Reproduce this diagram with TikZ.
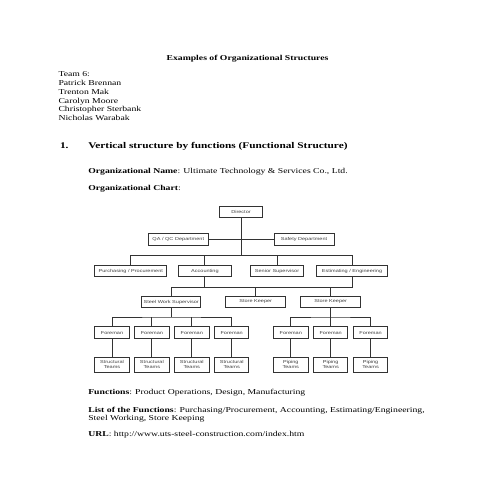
\documentclass[tikz,border=0pt]{standalone}
\usepackage{fontspec}
\setmainfont{Liberation Serif}
\newfontfamily\chartfont{Liberation Sans}
\usepackage{graphicx}
\newcommand{\sx}[1]{\scalebox{1.294}[1]{#1}}
\begin{document}
\begin{tikzpicture}[x=1pt,y=-1pt,
  pg/.style={anchor=base west, inner sep=0, outer sep=0, xscale=1.294, font=\fontsize{7.5}{8.8}\selectfont},
  pgb/.style={pg, font=\fontsize{7.5}{8.8}\selectfont\bfseries},
  hd/.style={pg, font=\fontsize{8.75}{10}\selectfont\bfseries},
  box/.style={draw=black!80, line width=1pt, inner sep=0, minimum height=11pt, font=\chartfont\fontsize{4.3}{5}\selectfont, text=black!75},
  fm/.style={box, minimum width=34.5pt, minimum height=11.3pt},
  tm/.style={box, minimum width=34.5pt, minimum height=14.8pt},
  ln/.style={draw=black!80, line width=1pt}]
\fill[white] (0,0) rectangle (495,495);
\useasboundingbox (0,0) rectangle (495,495);

% page text
\node[pgb, anchor=base] (title) at (247.5,60) {Examples of Organizational Structures};
\node[pg] (t1) at (58.5,76.7) {Team 6:};
\node[pg] (t2) at (58.5,85.5) {Patrick Brennan};
\node[pg] (t3) at (58.5,94.3) {Trenton Mak};
\node[pg] (t4) at (58.5,103.1) {Carolyn Moore};
\node[pg] (t5) at (58.5,111.9) {Christopher Sterbank};
\node[pg] (t6) at (58.5,120.7) {Nicholas Warabak};
\node[hd] (h1) at (60,148.3) {1.};
\node[hd] (h2) at (88.3,148.3) {Vertical structure by functions (Functional Structure)};
\node[pg] (on) at (88.3,173.3) {\textbf{Organizational Name}: Ultimate Technology \& Services Co., Ltd.};
\node[pg] (oc) at (88.3,190.7) {\textbf{Organizational Chart}:};
\node[pg] (fn) at (88.3,394) {\textbf{Functions}: Product Operations, Design, Manufacturing};
\node[pg] (lf1) at (88.3,412) {\textbf{List of the Functions}: Purchasing/Procurement, Accounting, Estimating/Engineering,};
\node[pg] (lf2) at (88.3,420.8) {Steel Working, Store Keeping};
\node[pg] (url) at (88.3,436.7) {\textbf{URL}: http://www.uts-steel-construction.com/index.htm};

% chart
\node[box, minimum width=43.4pt, minimum height=10.5pt] (dir) at (241,212.2) {\sx{Director}};
\node[box, minimum width=60pt, minimum height=12pt] (qa) at (178.3,239.3) {\sx{QA / QC Department}};
\node[box, minimum width=60pt, minimum height=12pt] (saf) at (304,239.3) {\sx{Safety Department}};
\node[box, minimum width=71.7pt] (pur) at (130.8,270.9) {\sx{Purchasing / Procurement}};
\node[box, minimum width=52.3pt] (acc) at (204.9,270.9) {\sx{Accounting}};
\node[box, minimum width=52.6pt] (sen) at (277,270.9) {\sx{Senior Supervisor}};
\node[box, minimum width=70.6pt] (est) at (352,270.9) {\sx{Estimating / Engineering}};
\node[box, minimum width=59pt, minimum height=10.8pt] (sws) at (171.2,301.9) {\sx{Steel Work Supervisor}};
\node[box, minimum width=60pt, minimum height=10.8pt] (sk1) at (255.7,301.9) {\sx{Store Keeper}};
\node[box, minimum width=60pt, minimum height=10.8pt] (sk2) at (330.7,301.9) {\sx{Store Keeper}};
\node[fm] (f1) at (112,332.6) {\sx{Foreman}};
\node[fm] (f2) at (151.9,332.6) {\sx{Foreman}};
\node[fm] (f3) at (191.8,332.6) {\sx{Foreman}};
\node[fm] (f4) at (231.7,332.6) {\sx{Foreman}};
\node[fm] (f5) at (290.8,332.6) {\sx{Foreman}};
\node[fm] (f6) at (330.7,332.6) {\sx{Foreman}};
\node[fm] (f7) at (370.6,332.6) {\sx{Foreman}};
\node[tm] (s1) at (112,364.9) {\sx{\begin{tabular}{@{}c@{}}Structural\\Teams\end{tabular}}};
\node[tm] (s2) at (151.9,364.9) {\sx{\begin{tabular}{@{}c@{}}Structural\\Teams\end{tabular}}};
\node[tm] (s3) at (191.8,364.9) {\sx{\begin{tabular}{@{}c@{}}Structural\\Teams\end{tabular}}};
\node[tm] (s4) at (231.7,364.9) {\sx{\begin{tabular}{@{}c@{}}Structural\\Teams\end{tabular}}};
\node[tm] (p1) at (290.8,364.9) {\sx{\begin{tabular}{@{}c@{}}Piping\\Teams\end{tabular}}};
\node[tm] (p2) at (330.7,364.9) {\sx{\begin{tabular}{@{}c@{}}Piping\\Teams\end{tabular}}};
\node[tm] (p3) at (370.6,364.9) {\sx{\begin{tabular}{@{}c@{}}Piping\\Teams\end{tabular}}};

\coordinate (b1) at (241,255.3);
\coordinate (b2) at (204.9,287.5);
\coordinate (b3) at (171.2,317);
\coordinate (b4) at (330.7,317);

\draw[ln] (dir) -- (b1);
\draw[ln] (qa.east) -- (saf.west);
\draw[ln] (pur.north) |- (b1) -| (est.north);
\draw[ln] (acc.north) -- (acc.north |- b1);
\draw[ln] (sen.north) -- (sen.north |- b1);
\draw[ln] (acc.south) -- (b2);
\draw[ln] (sws.north) |- (b2) -| (est.south);
\draw[ln] (sk1.north) -- (sk1.north |- b2);
\draw[ln] (sk2.north) -- (sk2.north |- b2);
\draw[ln] (sws.south) -- (b3);
\draw[ln] (f1.north) |- (b3) -| (f4.north);
\draw[ln] (f2.north) -- (f2.north |- b3);
\draw[ln] (f3.north) -- (f3.north |- b3);
\draw[ln] (sk2.south) -- (b4);
\draw[ln] (f5.north) |- (b4) -| (f7.north);
\draw[ln] (f6.north) -- (f6.north |- b4);
\draw[ln] (f1) -- (s1);
\draw[ln] (f2) -- (s2);
\draw[ln] (f3) -- (s3);
\draw[ln] (f4) -- (s4);
\draw[ln] (f5) -- (p1);
\draw[ln] (f6) -- (p2);
\draw[ln] (f7) -- (p3);
\end{tikzpicture}
\end{document}
